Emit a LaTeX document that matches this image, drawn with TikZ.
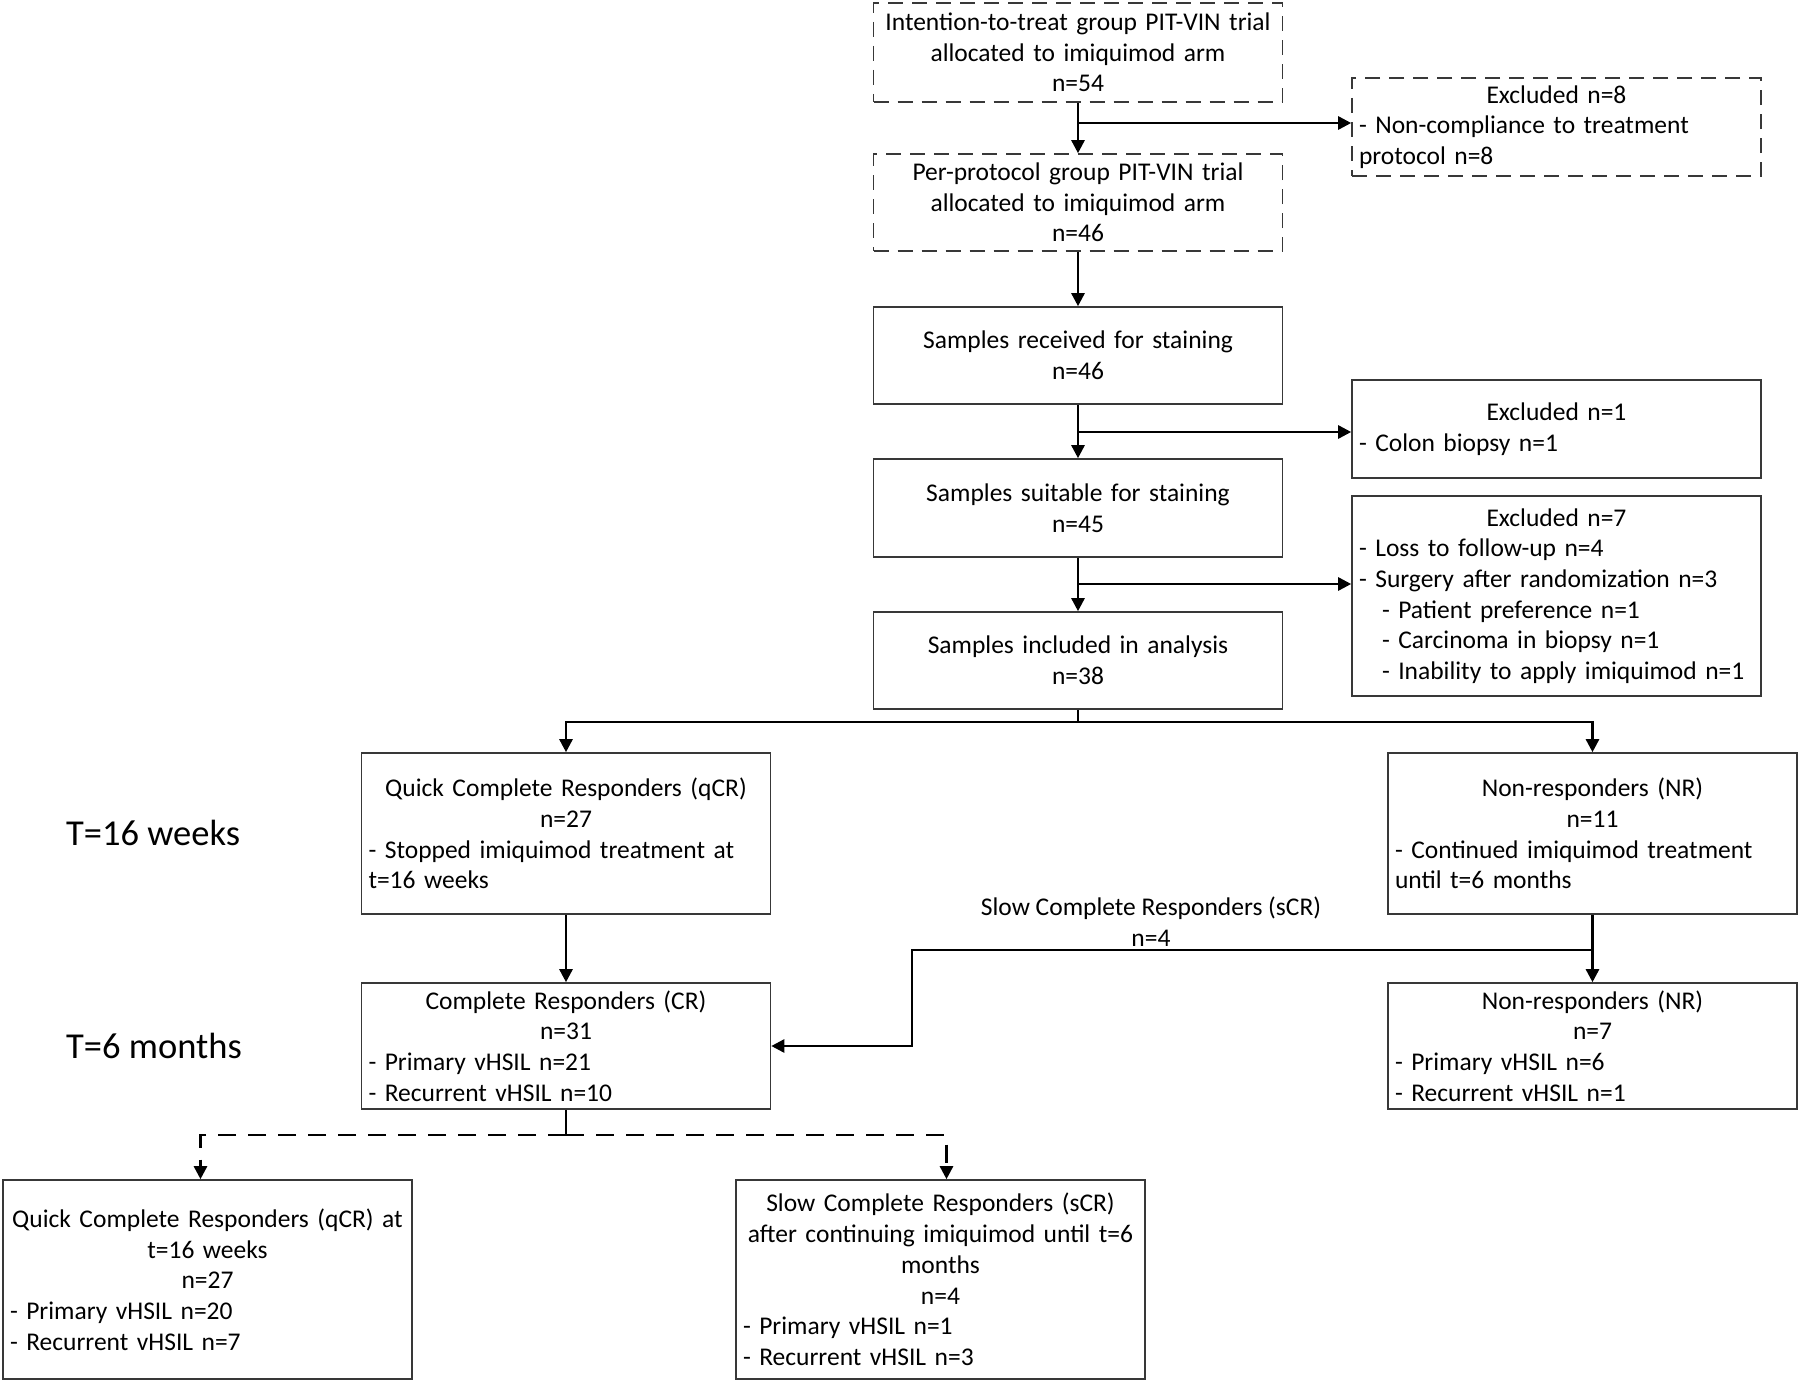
\documentclass[tikz,border=0pt]{standalone}
\usepackage{fontspec}
\setmainfont{Carlito}
\usetikzlibrary{arrows.meta,calc}
\newcommand\cl[1]{\makebox[\linewidth][c]{#1}}
\begin{document}
\begin{tikzpicture}[x=1pt,y=-1pt,
  box/.style={draw=black!78,line width=1.6pt,rectangle,text width=395pt,align=left,
    inner xsep=7pt,inner ysep=0pt,minimum width=409pt,
    font=\fontsize{25.5}{30.7}\selectfont,anchor=center},
  dbox/.style={box,dash pattern=on 15pt off 9pt},
  conn/.style={line width=2.6pt,-{Triangle[length=13pt,width=13pt]}},
  plain/.style={line width=2.6pt},
  dconn/.style={line width=2.6pt,dash pattern=on 18pt off 12pt,-{Triangle[length=13pt,width=13pt]}},
  tlab/.style={font=\fontsize{36.5}{44}\selectfont,anchor=west,inner sep=0pt},
  elab/.style={font=\fontsize{25.5}{30.7}\selectfont,align=center,inner sep=0pt}
]
\useasboundingbox (0,0) rectangle (1800,1381);
\fill[white] (0,0) rectangle (1800,1381);

\node[dbox,minimum height=99pt] (itt) at (1078,52.5) {\cl{Intention-to-treat group PIT-VIN trial}\\\cl{allocated to imiquimod arm}\\\cl{n=54}};
\node[dbox,minimum height=98pt] (exc8) at (1556.5,127) {\cl{Excluded n=8}\\- Non-compliance to treatment\\protocol n=8};
\node[dbox,minimum height=97pt] (pp) at (1078,202.5) {\cl{Per-protocol group PIT-VIN trial}\\\cl{allocated to imiquimod arm}\\\cl{n=46}};
\node[box,minimum height=97pt] (recv) at (1078,355.5) {\cl{Samples received for staining}\\\cl{n=46}};
\node[box,minimum height=98pt] (exc1) at (1556.5,429) {\cl{Excluded n=1}\\- Colon biopsy n=1};
\node[box,minimum height=98pt] (suit) at (1078,508) {\cl{Samples suitable for staining}\\\cl{n=45}};
\node[box,minimum height=200pt] (exc7) at (1556.5,596) {\cl{Excluded n=7}\\- Loss to follow-up n=4\\- Surgery after randomization n=3\\\hspace*{23pt}- Patient preference n=1\\\hspace*{23pt}- Carcinoma in biopsy n=1\\\hspace*{23pt}- Inability to apply imiquimod n=1};
\node[box,minimum height=97pt] (incl) at (1078,660.5) {\cl{Samples included in analysis}\\\cl{n=38}};
\node[box,minimum height=161pt] (qcr) at (566,833.5) {\cl{Quick Complete Responders (qCR)}\\\cl{n=27}\\- Stopped imiquimod treatment at\\t=16 weeks};
\node[box,minimum height=161pt] (nr) at (1592.5,833.5) {\cl{Non-responders (NR)}\\\cl{n=11}\\- Continued imiquimod treatment\\until t=6 months};
\node[box,minimum height=126pt] (cr) at (566,1046) {\cl{Complete Responders (CR)}\\\cl{n=31}\\- Primary vHSIL n=21\\- Recurrent vHSIL n=10};
\node[box,minimum height=126pt] (nr2) at (1592.5,1046) {\cl{Non-responders (NR)}\\\cl{n=7}\\- Primary vHSIL n=6\\- Recurrent vHSIL n=1};
\node[box,minimum height=199pt] (qcr2) at (207.5,1279.5) {\cl{Quick Complete Responders (qCR) at}\\\cl{t=16 weeks}\\\cl{n=27}\\- Primary vHSIL n=20\\- Recurrent vHSIL n=7};
\node[box,minimum height=199pt] (scr) at (940.5,1279.5) {\cl{Slow Complete Responders (sCR)}\\\cl{after continuing imiquimod until t=6}\\\cl{months}\\\cl{n=4}\\- Primary vHSIL n=1\\- Recurrent vHSIL n=3};

\node[tlab] (t16) at (66,833) {T=16 weeks};
\node[tlab] (t6) at (66,1046) {T=6 months};
\node[elab] (slab) at (1151,921.5) {Slow Complete Responders (sCR)\\n=4};

% main spine
\draw[conn] (itt.south) -- (pp.north);
\coordinate (b1) at (1078,123);
\draw[conn] (b1) -- (b1 -| exc8.west);
\draw[conn] (pp.south) -- (recv.north);
\draw[conn] (recv.south) -- (suit.north);
\coordinate (b2) at (1078,432);
\draw[conn] (b2) -- (b2 -| exc1.west);
\draw[conn] (suit.south) -- (incl.north);
\coordinate (b3) at (1078,584);
\draw[conn] (b3) -- (b3 -| exc7.west);

% split
\coordinate (sp) at (1078,722);
\draw[line width=1.6pt] (incl.south) -- (sp);
\draw[conn] (sp) -| (qcr.north);
\draw[conn] (sp) -| (nr.north);

\draw[conn] (qcr.south) -- (cr.north);
\draw[conn] (nr.south) -- (nr2.north);
\coordinate (sb) at (1592.5,950);
\coordinate (sk) at (912,950);
\draw[conn] (sb) -- (sk) |- (cr.east);

% dashed split
\coordinate (dsp) at (566,1135);
\draw[line width=1.6pt] (cr.south) -- (dsp);
\draw[dconn] (dsp) -| ([xshift=-7pt]qcr2.north);
\draw[dconn] (dsp) -| ([xshift=6pt]scr.north);
\end{tikzpicture}
\end{document}
